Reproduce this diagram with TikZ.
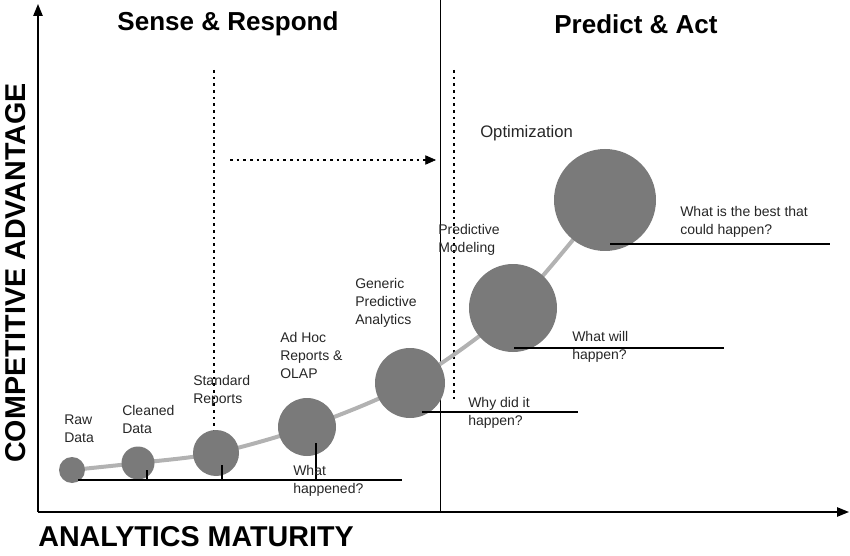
\documentclass[tikz,border=0pt]{standalone}
\usepackage{fontspec}
\setmainfont{Liberation Sans}
\usetikzlibrary{arrows.meta}
\begin{document}
\begin{tikzpicture}[x=0.75pt,y=-0.75pt,
  ball/.style={circle,fill=black!52,inner sep=0pt},
  lbl/.style={font=\fontsize{10.5}{13.5}\selectfont,align=left,text=black!85,inner sep=0pt},
  base/.style={black,line width=0.8pt},
  dots/.style={black,line width=2pt,dash pattern=on 2pt off 3pt},
  axis/.style={black,line width=1.2pt,-{Triangle[length=9pt,width=7pt]}}]
\useasboundingbox (0,0) rectangle (850,556);
\coordinate (o) at (38,512);
\coordinate (ytop) at (38,4);
\coordinate (xend) at (849,512);
\draw[axis] (o) -- (ytop);
\draw[axis] (o) -- (xend);
\draw[black,line width=0.6pt] (440,0) -- (440,512);
\node[font=\fontsize{19.5}{22}\selectfont\bfseries] (t1) at (228,24) {Sense \& Respond};
\node[font=\fontsize{19.5}{22}\selectfont\bfseries] (t2) at (636,24) {Predict \& Act};
\node[font=\fontsize{21.5}{24}\selectfont\bfseries,rotate=90] (yl) at (16,273) {COMPETITIVE ADVANTAGE};
\node[font=\fontsize{21.5}{24}\selectfont\bfseries] (xl) at (196,537) {ANALYTICS MATURITY};
% dotted
\draw[dots] (214,70) -- (214,440);
\draw[dots] (454,70) -- (454,400);
\coordinate (da) at (230,160); \coordinate (db) at (426,160);
\draw[dots] (da) -- (db);
\draw[black,line width=0.5pt,-{Triangle[length=8pt,width=7pt]}] (426,160) -- (436,160);
% curve
\draw[black!30,line width=3pt] plot[smooth] coordinates {(72,470) (138,463) (216,453) (307,427) (410,383) (513,308) (605,200)};
\node[ball,minimum size=26*0.75pt] (c1) at (72,470) {};
\node[ball,minimum size=33*0.75pt] (c2) at (138,463) {};
\node[ball,minimum size=46*0.75pt] (c3) at (216,453) {};
\node[ball,minimum size=58*0.75pt] (c4) at (307,427) {};
\node[ball,minimum size=70*0.75pt] (c5) at (410,383) {};
\node[ball,minimum size=88*0.75pt] (c6) at (513,308) {};
\node[ball,minimum size=102*0.75pt] (c7) at (605,200) {};
% labels
\node[lbl,anchor=north west] (l1) at (64,415) {Raw\\Data};
\node[lbl,anchor=north west] (l2) at (122,405) {Cleaned\\Data};
\node[lbl,anchor=north west] (l3) at (193,375) {Standard\\Reports};
\node[lbl,anchor=north west] (l4) at (280,332) {Ad Hoc\\Reports \&\\OLAP};
\node[lbl,anchor=north west] (l5) at (355,278) {Generic\\Predictive\\Analytics};
\node[lbl,anchor=north west] (l6) at (438,224) {Predictive\\Modeling};
\node[lbl,anchor=north west,font=\fontsize{12.5}{14}\selectfont] (l7) at (480,125) {Optimization};
% baselines
\coordinate (b1a) at (78,480); \coordinate (b1b) at (402,480);
\draw[base] (b1a) -- (b1b);
\draw[base] (147,470) -- (147,480);
\draw[base] (222,465) -- (222,480);
\draw[base] (316,443) -- (316,480);
\node[lbl,anchor=north west] (q1) at (293,465) {What\\happened?};
\coordinate (b2a) at (422,412); \coordinate (b2b) at (578,412);
\draw[base] (b2a) -- (b2b);
\node[lbl,anchor=north west] (q2) at (468,397) {Why did it\\happen?};
\coordinate (b3a) at (514,348); \coordinate (b3b) at (724,348);
\draw[base] (b3a) -- (b3b);
\node[lbl,anchor=north west] (q3) at (572,331) {What will\\happen?};
\coordinate (b4a) at (610,244); \coordinate (b4b) at (830,244);
\draw[base] (b4a) -- (b4b);
\node[lbl,anchor=north west] (q4) at (680,206) {What is the best that\\could happen?};
\end{tikzpicture}
\end{document}
